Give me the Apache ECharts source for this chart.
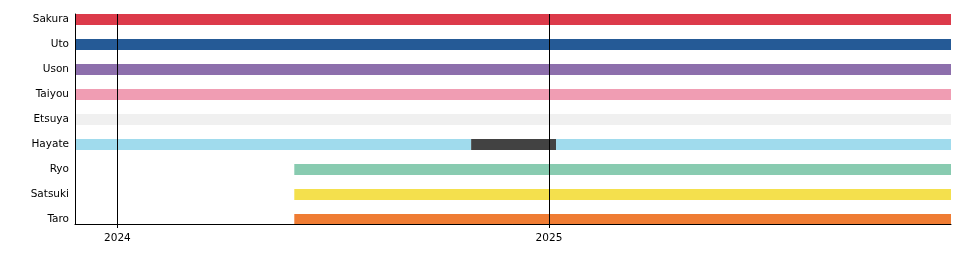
<!DOCTYPE html>
<html>
<head>
<meta charset="utf-8">
<script src="https://cdn.jsdelivr.net/npm/echarts@6/dist/echarts.min.js"></script>
<style>
  html, body { margin: 0; padding: 0; background: #fff; }
  #chart { width: 975px; height: 253px; }
</style>
</head>
<body>
<div id="chart"></div>
<script>
// people from top to bottom
const people = ['Sakura', 'Uto', 'Uson', 'Taiyou', 'Etsuya', 'Hayate', 'Ryo', 'Satsuki', 'Taro'];
// when each bar starts / ends
const starts = ['2023-11-26', '2023-11-26', '2023-11-26', '2023-11-26', '2023-11-26', '2023-11-26', '2024-05-30', '2024-05-30', '2024-05-30'];
const ends = ['2025-12-08', '2025-12-08', '2025-12-08', '2025-12-08', '2025-12-08', '2025-12-08', '2025-12-08', '2025-12-08', '2025-12-08'];
// the dark gap inside Hayate's bar
const breakPerson = 'Hayate';
const breakStart = '2024-10-27';
const breakEnd = '2025-01-07';
// x axis ticks (years)
const yearTicks = ['2024-01-01', '2025-01-01'];
// x range
const xStart = '2023-11-26';
const xEnd = '2025-12-08';

const colors = ['#dc3a4a', '#255a96', '#8d6fac', '#f09db3', '#f0f0f0', '#a0dbed', '#88cbb0', '#f4e04d', '#ef7c33'];
const breakColor = '#424242';

const ts = d => new Date(d).getTime();

// build segments: [start, end, row, color]
var segments = [];
people.forEach(function (name, i) {
    if (name === breakPerson) {
        segments.push([ts(starts[i]), ts(breakStart), i, colors[i]]);
        segments.push([ts(breakStart), ts(breakEnd), i, breakColor]);
        segments.push([ts(breakEnd), ts(ends[i]), i, colors[i]]);
    } else {
        segments.push([ts(starts[i]), ts(ends[i]), i, colors[i]]);
    }
});

var tickValues = yearTicks.map(ts);
var font = 'DejaVu Sans';

var option = {
    animation: false,
    grid: { left: 75, right: 24, top: 14, bottom: 29 },
    xAxis: {
        type: 'value',
        z: 10,
        min: ts(xStart),
        max: ts(xEnd),
        axisLine: { show: true, onZero: false, lineStyle: { color: '#000', width: 1 } },
        axisTick: { show: true, customValues: tickValues, length: 4, lineStyle: { color: '#000' } },
        axisLabel: {
            customValues: tickValues,
            margin: 9,
            color: '#000',
            fontFamily: font,
            fontSize: 10.5,
            formatter: v => String(new Date(v).getUTCFullYear())
        },
        splitLine: { show: false }
    },
    yAxis: {
        type: 'value',
        z: 10,
        inverse: true,
        min: -0.22,
        max: 8.18,
        axisLine: { show: true, onZero: false, lineStyle: { color: '#000', width: 1 } },
        axisTick: { show: false },
        axisLabel: {
            customValues: people.map((p, i) => i),
            margin: 6,
            padding: [2, 0, 0, 0],
            color: '#000',
            fontFamily: font,
            fontSize: 10.5,
            formatter: v => people[Math.round(v)]
        },
        splitLine: { show: false }
    },
    series: [
        {
            type: 'custom',
            z: 2,
            clip: true,
            data: segments,
            encode: { x: [0, 1], y: 2 },
            renderItem: function (params, api) {
                var a = api.coord([api.value(0), api.value(2)]);
                var b = api.coord([api.value(1), api.value(2)]);
                var h = api.size([0, 1])[1] * 0.44;
                var shape = echarts.graphic.clipRectByRect(
                    { x: a[0], y: a[1] - h / 2, width: b[0] - a[0], height: h },
                    { x: params.coordSys.x, y: params.coordSys.y, width: params.coordSys.width, height: params.coordSys.height }
                );
                return shape && {
                    type: 'rect',
                    shape: shape,
                    style: { fill: segments[params.dataIndex][3] }
                };
            }
        },
        {
            // year lines drawn over the bars
            type: 'line',
            z: 5,
            data: [],
            markLine: {
                silent: true,
                symbol: 'none',
                label: { show: false },
                lineStyle: { color: '#000', width: 1, type: 'solid' },
                data: tickValues.map(v => ({ xAxis: v }))
            }
        }
    ]
};

var myChart = echarts.init(document.getElementById('chart'), null, { renderer: 'canvas' });
myChart.setOption(option);
</script>
</body>
</html>
